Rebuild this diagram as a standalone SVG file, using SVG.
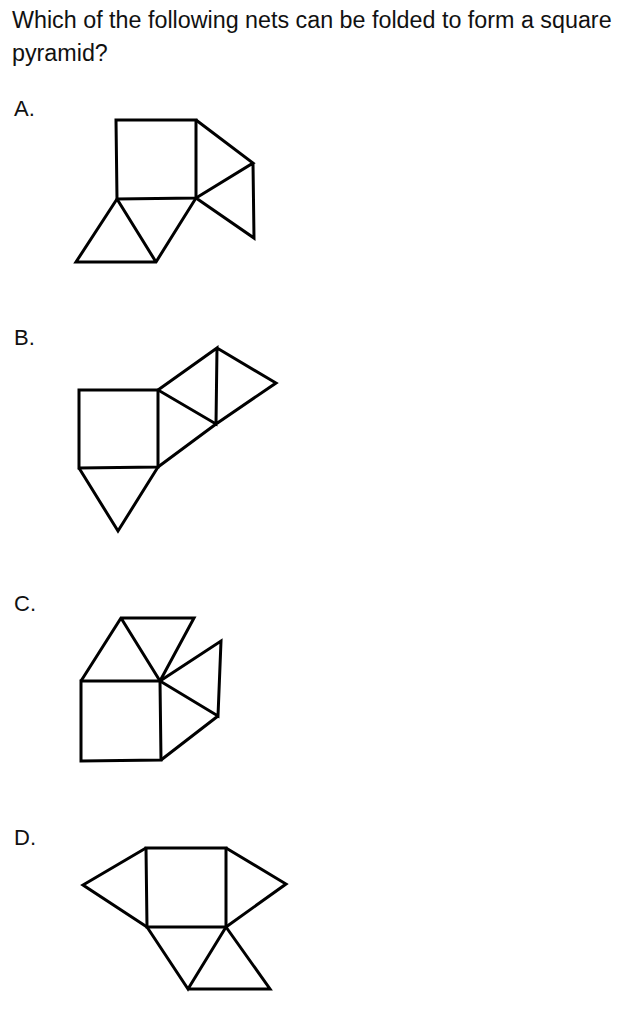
<svg xmlns="http://www.w3.org/2000/svg" width="642" height="1024" viewBox="0 0 642 1024">
<style>
text{font-family:"Liberation Sans",Arial,sans-serif;font-size:22px;fill:#111}
.q{font-size:23.3px}
.s{fill:none;stroke:#000;stroke-width:3;stroke-linejoin:miter}
</style>
<rect width="642" height="1024" fill="#fff"/>
<text class="q" x="12" y="28">Which of the following nets can be folded to form a square</text>
<text class="q" x="12" y="61">pyramid?</text>
<text x="14" y="116">A.</text>
<text x="14" y="345">B.</text>
<text x="14" y="611">C.</text>
<text x="14" y="845">D.</text>
<g id="netA" class="s">
<path d="M116,120 L196,120 L196,198 L117,199 Z"/>
<path d="M196,120 L253,163 L196,198 M253,163 L254,238 L196,198"/>
<path d="M117,199 L76,262 L156,262 L196,198 M117,199 L156,262"/>
</g>
<g id="netB" class="s">
<path d="M79,390 L158,390 L158,467 L79,468 Z"/>
<path d="M158,390 L217,348 L216,424 Z M217,348 L276,383 L216,424 L158,467"/>
<path d="M79,468 L118,531 L158,467"/>
</g>
<g id="netC" class="s">
<path d="M81,681 L160,681 L161,760 L81,761 Z"/>
<path d="M81,681 L121,618 L194,618 L160,681 M121,618 L160,681"/>
<path d="M160,681 L221,641 L218,716 Z M218,716 L161,760"/>
</g>
<g id="netD" class="s">
<path d="M146,848 L226,848 L226,927 L147,927 Z"/>
<path d="M146,848 L83,885 L147,927 M226,848 L286,884 L226,927"/>
<path d="M147,927 L188,989 L226,927 M188,989 L270,989 L226,927"/>
</g>
</svg>
